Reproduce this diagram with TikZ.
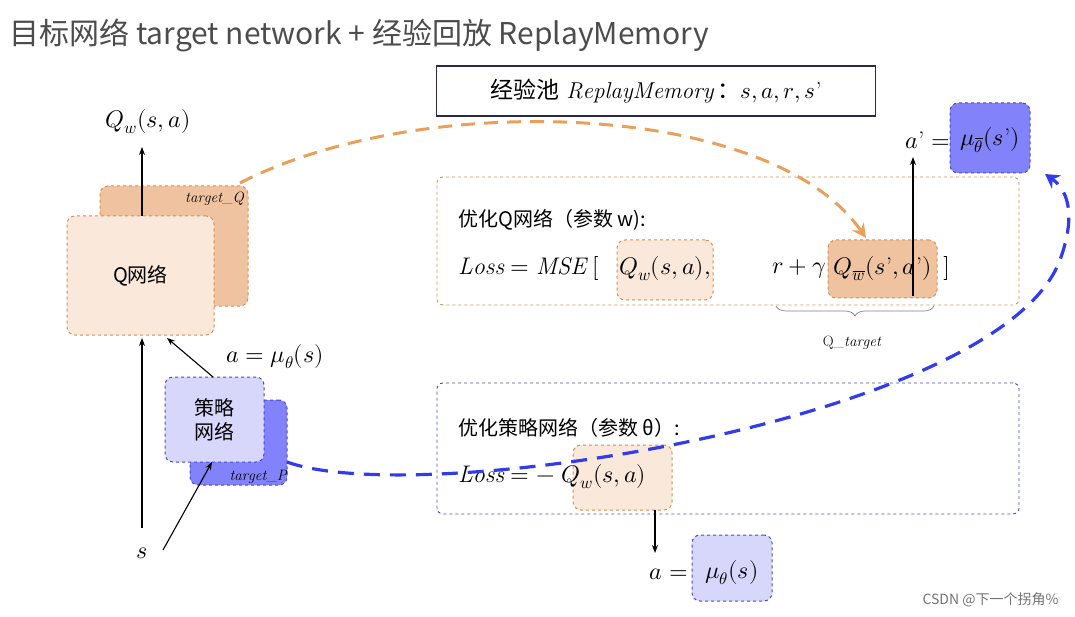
\documentclass[tikz,border=0pt]{standalone}
\usepackage{fontspec}
\usepackage{unicode-math}
\setmathfont{Latin Modern Math}
\newfontfamily\cjk{Noto Sans CJK SC}
\newcommand\myprime{\mbox{\kern0.5pt\textquoteright}}
\usetikzlibrary{arrows.meta,decorations.pathreplacing}
\definecolor{orL}{RGB}{250,232,218}
\definecolor{orD}{RGB}{240,195,160}
\definecolor{orB}{RGB}{215,140,80}
\definecolor{orA}{RGB}{232,160,90}
\definecolor{blL}{RGB}{215,215,252}
\definecolor{blD}{RGB}{130,130,250}
\definecolor{blB}{RGB}{70,70,210}
\definecolor{blA}{RGB}{50,60,235}
\definecolor{navy}{RGB}{40,40,80}
\begin{document}
\begin{tikzpicture}[x=1pt,y=-1pt,
  obox/.style={draw=orB,dashed,rounded corners=8pt,line width=1pt},
  bbox/.style={draw=blB,dashed,rounded corners=8pt,line width=1pt},
  arr/.style={-{Stealth[length=8pt]},line width=1.1pt},
  lbl/.style={inner sep=0pt,font=\fontsize{24}{26}\selectfont},
  cn/.style={inner sep=0pt,font=\cjk\fontsize{20}{22}\selectfont},
  tg/.style={inner sep=0pt,font=\fontsize{15}{16}\selectfont}]
\useasboundingbox (0,0) rectangle (1075,617);
\node[anchor=west,text=black!70,font=\cjk\fontsize{30}{32}\selectfont] (title) at (6,35) {目标网络 target network + 经验回放 ReplayMemory};
\node[draw=navy,line width=1.2pt,minimum width=439pt,minimum height=50pt,font=\fontsize{23}{25}\selectfont] (rm) at (656,91) {{\cjk 经验池} $\mathit{ReplayMemory}$\,{\cjk ：}$s,a,r,s\myprime$};
% left side
\node[obox,fill=orD,minimum width=148pt,minimum height=120pt] (tQ) at (174,246) {};
\node[tg,anchor=north east] (tQl) at (244,192) {$\mathit{target\_Q}$};
\node[obox,fill=orL,minimum width=147pt,minimum height=119pt,cn] (Q) at (140.5,275.5) {Q网络};
\node[lbl] (Qout) at (148,122) {$Q_w(s,a)$};
\node[bbox,fill=blD,minimum width=97pt,minimum height=85pt] (tP) at (238.5,442.5) {};
\node[tg,anchor=east] (tPl) at (287,477) {$\mathit{target\_P}$};
\node[bbox,fill=blL,minimum width=99pt,minimum height=85pt,cn,align=center] (P) at (214.5,419.5) {策略\\[2pt]网络};
\node[lbl] (s) at (142,553) {$s$};
\node[lbl] (amu) at (275,357) {$a=\mu_\theta(s)$};
\coordinate (qin) at (142,338);
\coordinate (qo) at (142,216);
\draw[arr] (142,528) -- (qin);
\draw[arr] (qo) -- (142,147);
\draw[arr] (163,550) -- (212,462);
\draw[arr] (213,377) -- (167,338);
% right upper
\node[draw=orB,dashed,rounded corners=6pt,line width=0.9pt,minimum width=582pt,minimum height=128pt] (ob) at (728,241) {};
\node[cn,anchor=west] (t1) at (458,220) {优化Q网络（参数 w):};
\node[lbl,anchor=west] (loss1) at (458,269) {$\mathit{Loss}=\mathit{MSE}\;[$};
\node[obox,fill=orL,minimum width=96pt,minimum height=60pt] (q1) at (665,270) {};
\node[lbl] at (665,269) {$Q_w(s,a),$};
\node[lbl,anchor=west] (rg) at (772,269) {$r+\gamma$};
\node[obox,fill=orD,minimum width=109pt,minimum height=58pt] (q2) at (882.5,269) {};
\node[lbl] at (882.5,269) {$Q_{\overline{w}}(s\myprime,a\myprime)$};
\node[lbl] (rb) at (947,269) {$]$};
\draw[decorate,decoration={brace,amplitude=10pt,mirror},gray,line width=0.7pt] (776,306) -- (934,306);
\node[inner sep=0pt,font=\fontsize{15}{16}\selectfont] (qt) at (852,343) {Q\_$\mathit{target}$};
\node[bbox,fill=blD,minimum width=80pt,minimum height=70pt] (ap) at (990,138) {};
\node[lbl] at (990,140) {$\mu_{\overline{\theta}}(s\myprime)$};
\node[lbl,anchor=east] (apl) at (950,140) {$a\myprime=$};
\draw[arr] (913,296) -- (913,157);
% right lower
\node[draw=blB,dashed,rounded corners=6pt,line width=0.9pt,minimum width=582pt,minimum height=131pt] (bb) at (728,448.5) {};
\node[cn,anchor=west] (t2) at (458,428) {优化策略网络（参数 θ）:};
\node[obox,fill=orL,minimum width=99pt,minimum height=65pt] (q3) at (622.5,477.5) {};
\node[lbl,anchor=west] (loss2) at (458,477) {$\mathit{Loss}=-\;Q_w(s,a)$};
\draw[arr] (655,510) -- (655,553);
\node[bbox,fill=blL,minimum width=80pt,minimum height=66pt] (mu) at (732,568) {};
\node[lbl] at (732,573) {$\mu_\theta(s)$};
\node[lbl,anchor=east] (al) at (688,574) {$a=$};
% curves
\draw[orA,dash pattern=on 14pt off 9pt,line width=3pt,-{Stealth[length=14pt,width=14pt]}] (240,183) .. controls (420,90) and (770,100) .. (866,238);
\draw[blA,dash pattern=on 16pt off 10pt,line width=3.2pt,-{Stealth[length=14pt,width=16pt]}] (287,462) .. controls (420,510) and (1000,420) .. (1060,260) .. controls (1078,210) and (1065,188) .. (1045,174);
\node[anchor=east,text=black!55,font=\cjk\fontsize{14}{16}\selectfont] (wm) at (1062,600) {CSDN @下一个拐角\%};
\end{tikzpicture}
\end{document}
